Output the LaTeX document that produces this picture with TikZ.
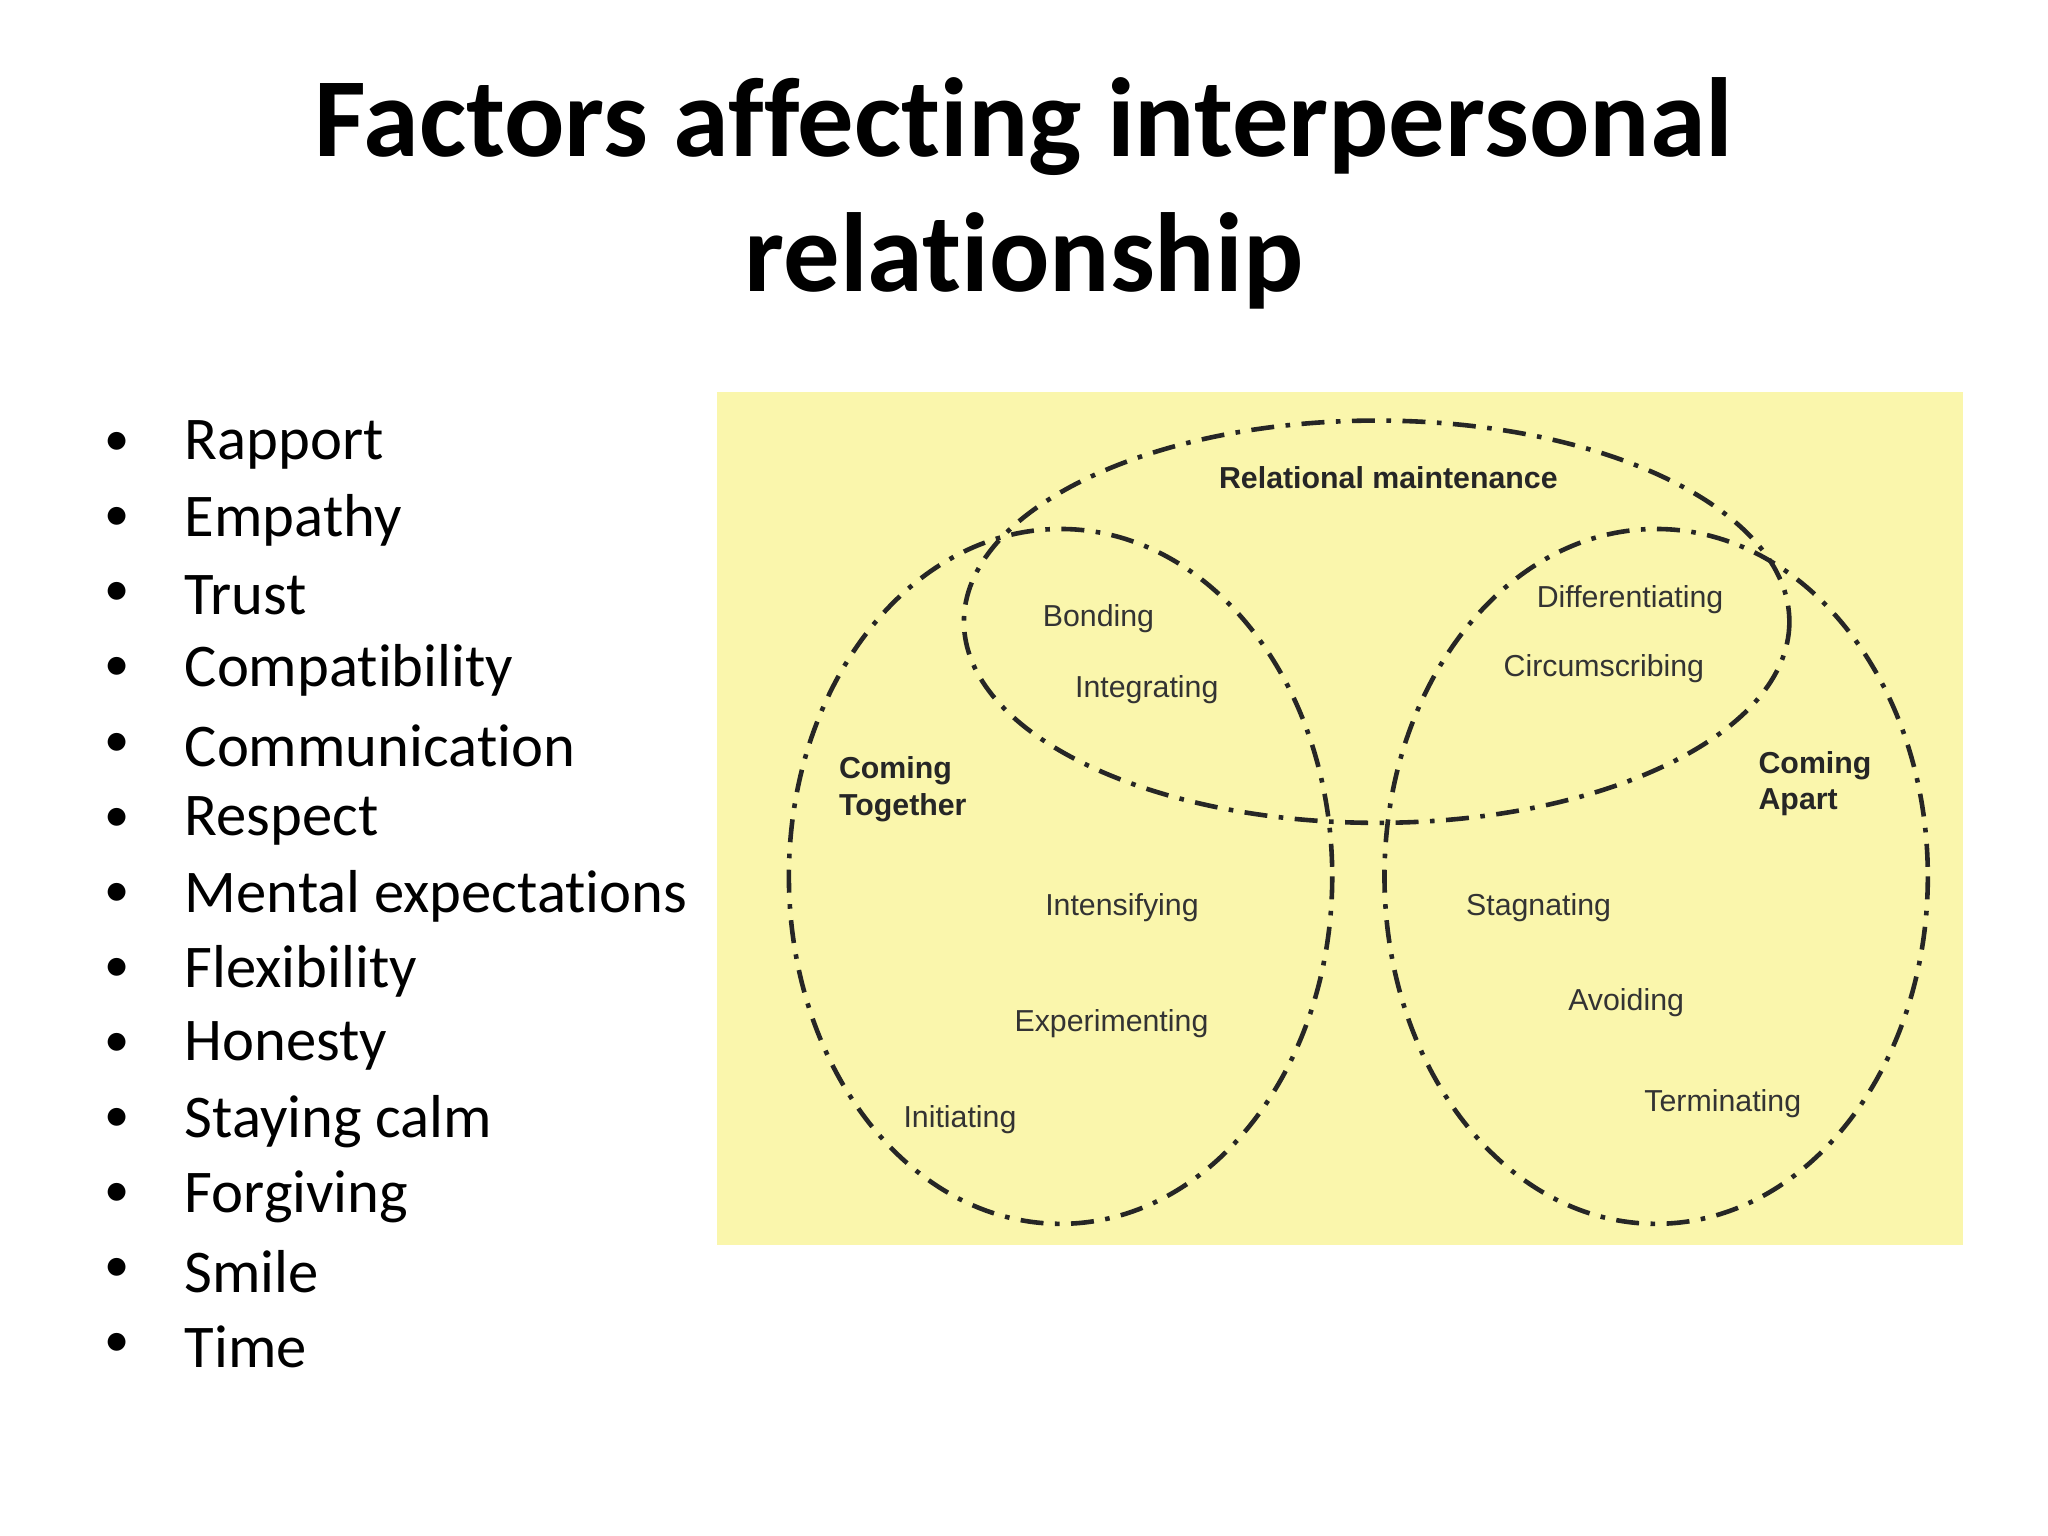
\documentclass[tikz,border=0pt]{standalone}
\usepackage{fontspec}
\setmainfont[Ligatures=NoCommon]{Carlito}
\newfontfamily\arialf{Liberation Sans}
\definecolor{pale}{RGB}{250,246,172}
\begin{document}
\begin{tikzpicture}[x=0.01cm,y=-0.01cm,
  ttl/.style={font=\fontsize{24.5}{30}\selectfont\bfseries},
  itm/.style={font=\fontsize{13.2}{16}\selectfont,anchor=west},
  bul/.style={font=\fontsize{11}{16}\selectfont},
  lbl/.style={font=\arialf\fontsize{6.6}{8}\selectfont,text=black!80},
  hd/.style={font=\arialf\bfseries\fontsize{6.6}{8}\selectfont,text=black!85,align=left},
  ring/.style={draw=black!85,line width=1pt,dash pattern=on 5pt off 2.5pt on 1pt off 2.5pt}]
\useasboundingbox (0,0) rectangle (1568,1176);
\fill[white] (0,0) rectangle (1568,1176);
\node[ttl] (t1) at (784,97) {Factors affecting interpersonal};
\node[ttl] (t2) at (784,200) {relationship};
\foreach \t [count=\i] in {Rapport,Empathy,Trust,Compatibility,Communication,Respect,Mental expectations,Flexibility,Honesty,Staying calm,Forgiving,Smile,Time}{
  \node[bul] (b\i) at (90,{340+57.5*(\i-1)}) {•};
  \node[itm] (i\i) at (129,{341+57.5*(\i-1)}) {\t};
}
\fill[pale] (549,300) rectangle (1503,953);
\draw[ring] (1054,476) ellipse [x radius=316,y radius=154];
\draw[ring] (812,671) ellipse [x radius=208,y radius=266];
\draw[ring] (1268,671) ellipse [x radius=208,y radius=266];
\node[hd] (rm) at (1063,366) {Relational maintenance};
\node[lbl] (bo) at (841,474) {Bonding};
\node[lbl] (in) at (878,528) {Integrating};
\node[lbl] (di) at (1248,459) {Differentiating};
\node[lbl] (ci) at (1228,512) {Circumscribing};
\node[hd,anchor=west] (ct) at (630,604) {Coming\\Together};
\node[hd,anchor=west] (ca) at (1334,600) {Coming\\Apart};
\node[lbl] (is) at (859,695) {Intensifying};
\node[lbl] (ex) at (851,784) {Experimenting};
\node[lbl] (it) at (735,857) {Initiating};
\node[lbl] (st) at (1178,695) {Stagnating};
\node[lbl] (av) at (1245,768) {Avoiding};
\node[lbl] (te) at (1319,845) {Terminating};
\end{tikzpicture}
\end{document}
